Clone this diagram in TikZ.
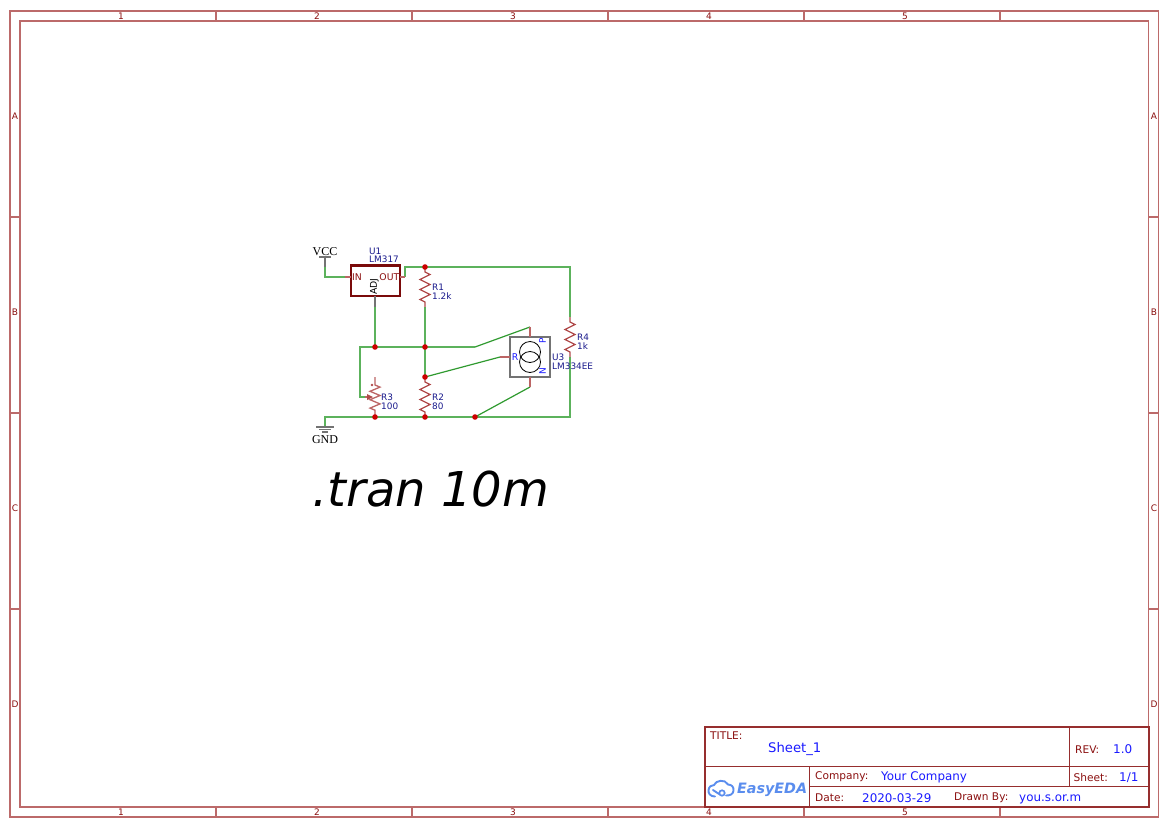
\documentclass[tikz,border=0pt]{standalone}
\usepackage{fontspec}
\setmainfont{DejaVu Sans}
\newfontfamily\serifx{Liberation Serif}
\definecolor{frm}{HTML}{BC6A6A}
\definecolor{tb}{HTML}{962E2E}
\definecolor{wirec}{HTML}{5CB25C}
\definecolor{diagc}{HTML}{2F9A2F}
\definecolor{pinc}{HTML}{B04A4A}
\definecolor{navy}{HTML}{1A1A8C}
\definecolor{bluex}{HTML}{1A1AFF}
\definecolor{redtxt}{HTML}{8B1010}
\definecolor{eda}{HTML}{5A8DEE}
\definecolor{ubox}{HTML}{7A0A0A}
\newcommand{\fs}[1]{\fontsize{#1pt}{#1pt}\selectfont}
\tikzset{
  x=1pt,y=-1pt,
  framel/.style={draw=frm,line width=1.5pt},
  tbl/.style={draw=tb,line width=1.1pt},
  wirel/.style={draw=wirec,line width=1.7pt,line join=miter},
  diagl/.style={draw=diagc,line width=1.2pt},
  pinl/.style={draw=pinc!85!white,line width=1.5pt},
  grayl/.style={draw=black!55,line width=1.6pt},
  zig/.style={draw=pinc,line width=1.3pt,line join=miter},
  junc/.style={circle,fill=red!80!black,draw=none,inner sep=0pt,minimum size=5.6pt},
  lbl/.style={inner sep=0pt,anchor=west},
  mark4/.style={inner sep=0pt,text=redtxt,font=\fs{9}},
  ref/.style={lbl,text=navy,font=\fs{8.9}},
  pinname/.style={inner sep=0pt,text=redtxt,font=\fs{9.3}},
  tbk/.style={lbl,text=redtxt,font=\fs{10.6}},
  tbv/.style={lbl,text=bluex,font=\fs{11.9}},
}
\newcommand{\zz}[2]{\draw[zig] (#1,#2) -- ++(0,5) -- ++(5,2.5) -- ++(-10,5) -- ++(10,5) -- ++(-10,5) -- ++(10,5) -- ++(-10,5) -- ++(5,2.5) -- ++(0,5);}
\begin{document}
\begin{tikzpicture}
\useasboundingbox (0,0) rectangle (1169,827);
\fill[white] (0,0) rectangle (1169,827);
% sheet frame
\draw[framel] (10,11) rectangle (1158.5,817);
\draw[framel] (20,21) rectangle (1148.5,807);
\foreach \x in {216,412,608,804,1000}{
  \draw[framel] (\x,11) -- (\x,21);
  \draw[framel] (\x,807) -- (\x,817);
}
\foreach \y in {217,413,609}{
  \draw[framel] (10,\y) -- (20,\y);
  \draw[framel] (1148.5,\y) -- (1158.5,\y);
}
\foreach \n/\x in {1/121,2/317,3/513,4/709,5/905}{
  \node[mark4] (top\n) at (\x,16) {\n};
  \node[mark4] (bot\n) at (\x,812) {\n};
}
\foreach \n/\y in {A/116,B/312,C/508,D/704}{
  \node[mark4] (left\n) at (15,\y) {\n};
  \node[mark4] (right\n) at (1154,\y) {\n};
}
% title block
\draw[tbl,line width=1.4pt] (705,727) rectangle (1149,807);
\draw[tbl] (705,766.5) -- (1149,766.5);
\draw[tbl] (809,786.5) -- (1149,786.5);
\draw[tbl] (1069.5,727) -- (1069.5,786.5);
\draw[tbl] (809.5,766.5) -- (809.5,807);
\node[tbk] (ttitle) at (710,736) {TITLE:};
\node[lbl,text=bluex,font=\fs{13.2}] (tsheet) at (768,749.5) {Sheet\_1};
\node[tbk] (trev) at (1075,749.5) {REV:};
\node[tbv,font=\fs{12}] (trevv) at (1113,749) {1.0};
\node[tbk] (tcomp) at (815,776.5) {Company:};
\node[tbv] (tcompv) at (881,777.5) {Your Company};
\node[tbk] (tsh) at (1073.5,778) {Sheet:};
\node[tbv,font=\fs{12}] (tshv) at (1119,778) {1/1};
\node[tbk] (tdate) at (815,798) {Date:};
\node[tbv] (tdatev) at (862,798) {2020-03-29};
\node[tbk] (tdrawn) at (954,798) {Drawn By:};
\node[tbv] (tdrawnv) at (1019,799.5) {you.s.or.m};
% EasyEDA logo
\draw[eda,line width=1.9pt,line cap=round,line join=round]
  (715,796.5) .. controls (710.5,796.5) and (708,793.5) .. (708.5,790)
  .. controls (709,786.5) and (711.5,785) .. (714,785)
  .. controls (715.5,780.5) and (725,778.5) .. (728,784.5)
  .. controls (731.5,784.5) and (734,787) .. (733.5,790.5)
  .. controls (733,794.5) and (730,795.5) .. (726,795.5);
\draw[eda,line width=1.9pt,line cap=round] (713,790) -- (719,794);
\draw[eda,line width=1.7pt] (722,793) circle (2.7);
\node[lbl,text=eda,font=\fs{14.3}\bfseries\itshape] (edat) at (737,790) {EasyEDA};
% coordinates
\coordinate (vccw) at (325,267);
\coordinate (vccc) at (325,277);
\coordinate (u1in) at (345,277);
\coordinate (u1o) at (405,277);
\coordinate (u1oc) at (405,267);
\coordinate (tr) at (570,267);
\coordinate (r4t) at (570,317);
\coordinate (r4b) at (570,357);
\coordinate (br) at (570,417);
\coordinate (gndw) at (325,417);
\coordinate (gndb) at (325,426);
\coordinate (adj) at (375,307);
\coordinate (r1b) at (425,307);
\coordinate (pl) at (360,347);
\coordinate (pc) at (360,397);
\coordinate (pa) at (365,397);
\coordinate (kn) at (475,347);
\coordinate (u3p) at (530,327);
\coordinate (u3r) at (500,357);
\coordinate (u3n) at (530,387);
% wires
\draw[wirel] (vccw) -- (vccc) -- (u1in);
\draw[wirel] (u1o) -- (u1oc) -- (tr) -- (r4t);
\draw[wirel] (r4b) -- (br) -- (gndw) -- (gndb);
\draw[wirel] (adj) -- (375,347);
\draw[wirel] (r1b) -- (425,377);
\draw[wirel] (pa) -- (pc) -- (pl) -- (kn);
\draw[diagl] (kn) -- (u3p);
\draw[diagl] (425,377) -- (u3r);
\draw[diagl] (475,417) -- (u3n);
% VCC, GND
\node[inner sep=0pt,font=\serifx\fs{12}] (vcc) at (325,252) {VCC};
\draw[grayl] (319,257) -- (331,257);
\draw[grayl] (325,257) -- (vccw);
\draw[grayl,line width=2pt] (316,426.5) -- (334,426.5);
\draw[grayl] (319,429.5) -- (331,429.5);
\draw[grayl] (322,432) -- (328,432);
\node[inner sep=0pt,font=\serifx\fs{12}] (gnd) at (325,439.5) {GND};
% U1
\draw[draw=ubox,line width=2.2pt] (351,265.5) rectangle (400,296);
\draw[pinl] (u1in) -- (351,277);
\draw[pinl] (400,277) -- (u1o);
\draw[grayl] (375,296) -- (adj);
\node[pinname,anchor=west] (u1inl) at (352,277) {IN};
\node[pinname,anchor=east] (u1outl) at (399.5,277) {OUT};
\node[inner sep=0pt,font=\fs{9.3},rotate=90,anchor=west,text=black] (u1adj) at (374.5,295) {ADJ};
\node[ref] (u1a) at (369,251) {U1};
\node[ref] (u1b) at (369,259) {LM317};
% resistors
\zz{425}{267}
\node[ref] (r1a) at (432,287) {R1};
\node[ref] (r1v) at (432,296) {1.2k};
\zz{425}{377}
\node[ref] (r2a) at (432,397) {R2};
\node[ref] (r2v) at (432,406) {80};
\zz{570}{317}
\node[ref] (r4a) at (577,337) {R4};
\node[ref] (r4v) at (577,346) {1k};
% R3
\draw[zig,draw=pinc!85!white] (375,377) -- (375,385) -- ++(5,2.1) -- ++(-10,4.2) -- ++(10,4.2) -- ++(-10,4.2) -- ++(10,4.2) -- ++(-10,4.2) -- ++(5,2.1) -- (375,417);
\fill[pinc] (372,385) circle (1.3);
\draw[pinl] (pa) -- (369,397);
\fill[pinc] (373,397) -- (367,394) -- (367,400) -- cycle;
\node[ref] (r3a) at (381,397) {R3};
\node[ref] (r3v) at (381,406) {100};
% U3
\draw[grayl,line width=1.7pt] (510,337) rectangle (550,377);
\draw[draw=black,line width=0.8pt] (530,352) circle (10.5);
\draw[draw=black,line width=0.8pt] (530,362) circle (10.5);
\draw[pinl] (u3p) -- (530,337);
\draw[pinl] (u3r) -- (510,357);
\draw[pinl] (u3n) -- (530,377);
\node[inner sep=0pt,text=bluex,font=\fs{9.3}] (u3rl) at (515,357) {R};
\node[inner sep=0pt,text=bluex,font=\fs{9},rotate=90] (u3pl) at (542.5,341) {P};
\node[inner sep=0pt,text=bluex,font=\fs{9},rotate=90] (u3nl) at (542.5,371) {N};
\node[ref] (u3a) at (552,357) {U3};
\node[ref] (u3b) at (552,366) {LM334EE};
% junctions
\foreach \n/\x/\y in {a/425/267,b/375/347,c/425/347,d/425/377,e/375/417,f/425/417,g/475/417}{
  \node[junc] (j\n) at (\x,\y) {};
}
% directive
\node[lbl,font=\fs{48}\itshape,text=black] (tran) at (312,489) {.tran 10m};
\end{tikzpicture}
\end{document}
